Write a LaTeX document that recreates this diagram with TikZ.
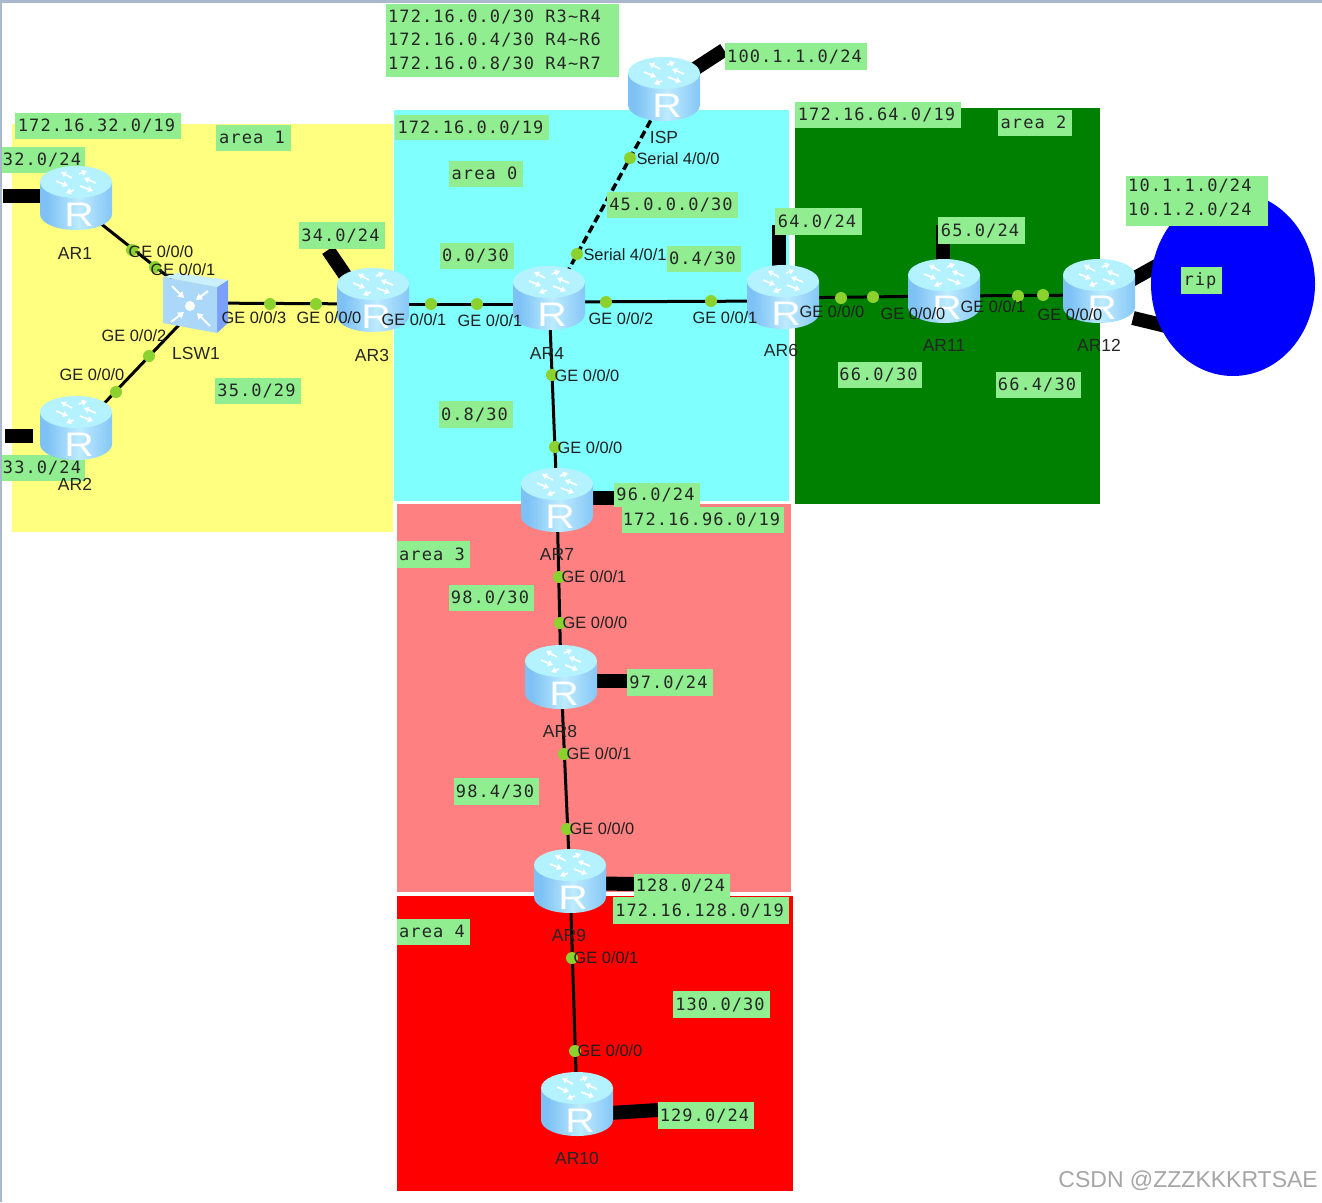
\documentclass[tikz,border=0pt]{standalone}
\usepackage{fontspec}
\setmainfont{Liberation Sans}
\newfontfamily\labfont[LetterSpace=6.3]{DejaVu Sans Mono}
\usetikzlibrary{arrows.meta}
\definecolor{boxgreen}{HTML}{90EE90}
\definecolor{dotgreen}{HTML}{8CD22E}
\definecolor{ayellow}{HTML}{FFFF80}
\definecolor{acyan}{HTML}{80FFFF}
\definecolor{agreen}{HTML}{008000}
\definecolor{asalmon}{HTML}{FF8080}
\definecolor{ared}{HTML}{FF0000}
\definecolor{ablue}{HTML}{0000FF}
\definecolor{rside}{HTML}{7EC2F5}
\definecolor{redge}{HTML}{A9DCF7}
\definecolor{rmid}{HTML}{BDEBFF}
\definecolor{rtop}{HTML}{B4F2FF}
\definecolor{framecol}{HTML}{A9B8CC}
\pgfdeclarehorizontalshading{rbody}{100bp}{
  color(0bp)=(redge); color(12bp)=(rside); color(30bp)=(rside);
  color(52bp)=(rmid); color(78bp)=(rside); color(92bp)=(rside); color(100bp)=(redge)}
\tikzset{
  linkline/.style={line width=3pt,black},
  stub/.style={line width=14pt,black},
  ifdot/.style={circle,fill=dotgreen,inner sep=0pt,minimum size=12pt},
  iflabel/.style={font=\fontsize{16.4}{16.4}\selectfont,inner sep=0pt,text=black!88},
  devlabel/.style={font=\fontsize{17.5}{17.5}\selectfont,inner sep=0pt,text=black!85},
  gbox/.style={fill=boxgreen,inner sep=0pt,font=\labfont\fontsize{17}{17}\selectfont,text=black!85},
  router/.pic={
    \shade[shading=rbody]
      (-36,-16) -- (-36,16) .. controls (-36,25) and (-20,32) .. (0,32)
      .. controls (20,32) and (36,25) .. (36,16) -- (36,-16) -- cycle;
    \fill[rtop] (0,-16) ellipse[x radius=36,y radius=16];
    \begin{scope}[white,line width=1.7pt,-{Triangle[length=5pt,width=6pt]}]
      \draw (-4,-20) -- (-15,-26);
      \draw (-20,-17) -- (-8,-12);
      \draw (4,-12) -- (17,-7);
      \draw (20,-15) -- (8,-20);
      \draw (-2,-8) -- (-10,-5);
      \draw (3,-24) -- (11,-27);
    \end{scope}
    \node[text=white,inner sep=0pt,font=\fontsize{34}{34}\selectfont] (-r) at (3,17) {\scalebox{1.2}[1]{R}};
  },
}
\newcommand{\areabox}[5]{\fill[#1] (#2,#3) rectangle (#4,#5);}
\newcommand{\gb}[6]{%
  \pgfmathsetmacro{\gw}{#4-#2}\pgfmathsetmacro{\gh}{#5-#3}%
  \pgfmathsetmacro{\gx}{(#2+#4)/2}\pgfmathsetmacro{\gy}{(#3+#5)/2}%
  \node[gbox,minimum width=\gw pt,minimum height=\gh pt] (#1) at (\gx,\gy) {\kern-3pt\raisebox{1pt}{#6}};}
\begin{document}
\begin{tikzpicture}[x=1pt,y=-1pt]
\useasboundingbox (0,0) rectangle (1322,1202);
\fill[white] (0,0) rectangle (1322,1202);
\fill[framecol] (0,0) rectangle (1322,3);
\fill[framecol] (0,0) rectangle (2,1202);
% areas
\areabox{ayellow}{12}{124}{393}{532}
\areabox{acyan}{394}{110}{789}{501}
\areabox{agreen}{795}{108}{1100}{504}
\areabox{asalmon}{397}{504}{791}{892}
\areabox{ared}{397}{896}{793}{1191}
% device anchors
\coordinate (ar1) at (76,198);
\coordinate (ar2) at (76,428);
\coordinate (ar3) at (373,300);
\coordinate (ar4) at (549,298);
\coordinate (isp) at (664,89);
\coordinate (ar6) at (783,297);
\coordinate (ar11) at (944,291);
\coordinate (ar12) at (1099,291);
\coordinate (ar7) at (557,500);
\coordinate (ar8) at (561,677);
\coordinate (ar9) at (570,881);
\coordinate (ar10) at (577,1104);
\coordinate (lsw) at (196,303);
% stub ends
\coordinate (s1) at (3,196);
\coordinate (s1b) at (40,196);
\coordinate (s2) at (5,436);
\coordinate (s2b) at (33,436);
\coordinate (s3) at (328,250);
\coordinate (sisp) at (724,50);
\coordinate (s6) at (779,225);
\coordinate (s11) at (943,225);
\coordinate (s7) at (616,498);
\coordinate (s8) at (628,681);
\coordinate (s9) at (634,884);
\coordinate (s10) at (658,1110);
\coordinate (s12a) at (1160,264);
\coordinate (s12b) at (1170,327);
\draw[stub] (s1b) -- (s1);
\draw[stub] (s2b) -- (s2);
\draw[stub] ([xshift=-11pt]ar3) -- (s3);
\draw[stub] (isp) -- (sisp);
\draw[stub] ([xshift=-4pt]ar6) -- (s6);
\draw[stub] ([xshift=-1pt]ar11) -- (s11);
\draw[stub] ([yshift=2pt]ar7) -- (s7);
\draw[stub] ([yshift=-4pt]ar8) -- (s8);
\draw[stub] ([yshift=-2pt]ar9) -- (s9);
\draw[stub] ([yshift=-11pt]ar10) -- (s10);
\draw[stub] ([yshift=-7pt]ar12) -- (s12a);
\draw[stub] ([xshift=34pt,yshift=-27pt]ar12) -- (s12b);
\fill[ablue] (1233,284) ellipse[x radius=82,y radius=92];
% links
\draw[linkline] ([yshift=-6pt]ar1) -- ([yshift=4pt]lsw);
\draw[linkline] ([yshift=-5pt]ar2) -- ([yshift=-4pt]lsw);
\draw[linkline] (lsw) -- ([yshift=-4pt]ar3);
\draw[linkline] ([yshift=-4pt]ar3) -- ([yshift=-6pt]ar4);
\draw[linkline] ([yshift=-4pt]ar4) -- ([yshift=-4pt]ar6);
\draw[linkline] (ar4) -- (ar7);
\draw[linkline] (ar7) -- (ar8);
\draw[linkline] (ar8) -- (ar9);
\draw[linkline] (ar9) -- (ar10);
\draw[linkline] ([yshift=-1pt]ar6) -- ([yshift=-5pt]ar11);
\draw[linkline] ([yshift=-5pt]ar11) -- ([yshift=-4pt]ar12);
\draw[line width=3.5pt,black,dash pattern=on 8pt off 4pt] ([xshift=4pt]isp) -- ([xshift=4pt]ar4);
% green boxes
\gb{bA}{386}{4}{619}{77}{}
\node[inner sep=0pt,anchor=west,align=left,text=black!85,font=\labfont\fontsize{17}{23.5}\selectfont] (bAt) at (388,40) {172.16.0.0/30 R3\textasciitilde R4\\172.16.0.4/30 R4\textasciitilde R6\\172.16.0.8/30 R4\textasciitilde R7};
\gb{bB}{725}{43}{867}{70}{100.1.1.0/24}
\gb{bC}{15}{113}{181}{139}{172.16.32.0/19}
\gb{bD}{216}{125}{291}{151}{area 1}
\gb{bE}{2}{147}{85}{173}{32.0/24}
\gb{bF}{299}{222}{385}{249}{34.0/24}
\gb{bG}{215}{378}{301}{404}{35.0/29}
\gb{bH}{2}{455}{85}{481}{33.0/24}
\gb{bI}{395}{115}{549}{140}{172.16.0.0/19}
\gb{bJ}{449}{161}{523}{187}{area 0}
\gb{bK}{607}{192}{738}{218}{45.0.0.0/30}
\gb{bL}{440}{243}{514}{269}{0.0/30}
\gb{bM}{667}{246}{741}{272}{0.4/30}
\gb{bN}{439}{401}{513}{428}{0.8/30}
\gb{bO}{795}{102}{961}{128}{172.16.64.0/19}
\gb{bP}{998}{110}{1072}{136}{area 2}
\gb{bQ}{775}{208}{862}{235}{64.0/24}
\gb{bR}{938}{217}{1025}{244}{65.0/24}
\gb{bS}{1126}{176}{1268}{226}{}
\node[inner sep=0pt,anchor=west,align=left,text=black!85,font=\labfont\fontsize{17}{24}\selectfont] (bSt) at (1128,198) {10.1.1.0/24\\10.1.2.0/24};
\gb{bT}{1181}{267}{1222}{294}{rip}
\gb{bU}{838}{362}{922}{388}{66.0/30}
\gb{bV}{996}{372}{1081}{398}{66.4/30}
\gb{bW}{614}{483}{700}{507}{96.0/24}
\gb{bX}{622}{507}{784}{533}{172.16.96.0/19}
\gb{bY}{397}{541}{470}{568}{area 3}
\gb{bZ}{449}{585}{534}{611}{98.0/30}
\gb{cA}{627}{669}{713}{696}{97.0/24}
\gb{cB}{454}{778}{539}{805}{98.4/30}
\gb{cC}{634}{874}{730}{898}{128.0/24}
\gb{cD}{613}{897}{789}{924}{172.16.128.0/19}
\gb{cE}{397}{919}{470}{945}{area 4}
\gb{cF}{673}{991}{770}{1018}{130.0/30}
\gb{cG}{658}{1102}{754}{1129}{129.0/24}
% interface dots
\foreach \n/\x/\y in {d1/132/250,d2/155/267,d3/270/304,d4/316/304,d5/149/356,d6/116/392,d7/431/304,d8/477/304,d9/606/302,d10/711/301,d11/630/158,d12/577/254,d13/552/375,d14/555/447,d15/841/298,d16/873/297,d17/1018/296,d18/1043/295,d19/559/577,d20/560/623,d21/564/754,d22/567/829,d23/572/958,d24/575/1051}
  \node[ifdot] (\n) at (\x,\y) {};
% routers
\pic (pr1) at (ar1) {router};
\pic (pr2) at (ar2) {router};
\pic (pr3) at (ar3) {router};
\pic (pr4) at (ar4) {router};
\pic (pisp) at (isp) {router};
\pic (pr6) at (ar6) {router};
\pic (pr11) at (ar11) {router};
\pic (pr12) at (ar12) {router};
\pic (pr7) at (ar7) {router};
\pic (pr8) at (ar8) {router};
\pic (pr9) at (ar9) {router};
\pic (pr10) at (ar10) {router};
% switch
\fill[rside!70!blue!80!white] (217,287) -- (228,280) -- (228,323) -- (217,333) -- cycle;
\fill[rmid!80!white] (163,277) -- (177,273) -- (228,280) -- (217,287) -- cycle;
\fill[rside!65!white] (163,277) -- (217,287) -- (217,333) -- (163,323) -- cycle;
\fill[white] (190,306) circle[radius=5];
\begin{scope}[white,line width=2pt,-{Triangle[length=6pt,width=7pt]}]
  \draw (172,286) -- (184,298);
  \draw (208,291) -- (196,300);
  \draw (171,322) -- (184,312);
  \draw (210,326) -- (197,313);
\end{scope}
% interface labels
\node[iflabel] (i1) at (161,252) {GE 0/0/0};
\node[iflabel] (i2) at (183,270) {GE 0/0/1};
\node[iflabel] (i3) at (134,336) {GE 0/0/2};
\node[iflabel] (i4) at (92,375) {GE 0/0/0};
\node[iflabel] (i5) at (254,318) {GE 0/0/3};
\node[iflabel] (i6) at (329,318) {GE 0/0/0};
\node[iflabel] (i7) at (414,320) {GE 0/0/1};
\node[iflabel] (i8) at (490,321) {GE 0/0/1};
\node[iflabel] (i9) at (621,319) {GE 0/0/2};
\node[iflabel] (i10) at (725,318) {GE 0/0/1};
\node[iflabel] (i11) at (678,159) {Serial 4/0/0};
\node[iflabel] (i12) at (625,255) {Serial 4/0/1};
\node[iflabel] (i13) at (587,376) {GE 0/0/0};
\node[iflabel] (i14) at (590,448) {GE 0/0/0};
\node[iflabel] (i15) at (832,312) {GE 0/0/0};
\node[iflabel] (i16) at (913,314) {GE 0/0/0};
\node[iflabel] (i17) at (993,307) {GE 0/0/1};
\node[iflabel] (i18) at (1070,315) {GE 0/0/0};
\node[iflabel] (i19) at (594,577) {GE 0/0/1};
\node[iflabel] (i20) at (595,623) {GE 0/0/0};
\node[iflabel] (i21) at (599,754) {GE 0/0/1};
\node[iflabel] (i22) at (602,829) {GE 0/0/0};
\node[iflabel] (i23) at (606,958) {GE 0/0/1};
\node[iflabel] (i24) at (610,1051) {GE 0/0/0};
% device names
\node[devlabel] (n1) at (75,253) {AR1};
\node[devlabel] (n2) at (75,484) {AR2};
\node[devlabel] (n3) at (196,353) {LSW1};
\node[devlabel] (n4) at (372,355) {AR3};
\node[devlabel] (n5) at (547,353) {AR4};
\node[devlabel] (n6) at (664,137) {ISP};
\node[devlabel] (n7) at (781,350) {AR6};
\node[devlabel] (n8) at (944,345) {AR11};
\node[devlabel] (n9) at (1099,345) {AR12};
\node[devlabel] (n10) at (557,554) {AR7};
\node[devlabel] (n11) at (560,731) {AR8};
\node[devlabel] (n12) at (569,935) {AR9};
\node[devlabel] (n13) at (577,1158) {AR10};
\node[inner sep=0pt,anchor=east,text=black!35,font=\fontsize{23}{23}\selectfont] (wm) at (1318,1181) {CSDN @ZZZKKKRTSAE};
\end{tikzpicture}
\end{document}
